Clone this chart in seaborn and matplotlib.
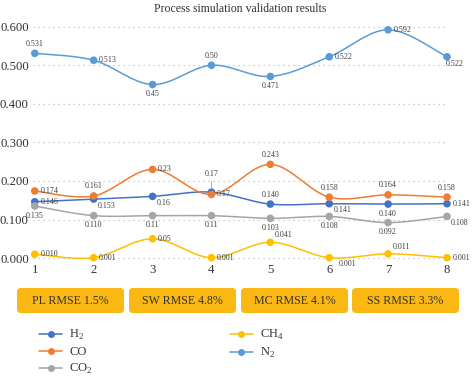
import numpy as np
import pandas as pd
import matplotlib
matplotlib.use('Agg')
import matplotlib.pyplot as plt
import seaborn as sns
from matplotlib.patches import FancyBboxPatch
from matplotlib.lines import Line2D

# Data
runs = [1, 2, 3, 4, 5, 6, 7, 8]
h2 = [0.146, 0.153, 0.160, 0.171, 0.140, 0.141, 0.140, 0.141]
co = [0.174, 0.161, 0.230, 0.165, 0.243, 0.158, 0.164, 0.158]
co2 = [0.135, 0.110, 0.110, 0.110, 0.103, 0.108, 0.092, 0.108]
ch4 = [0.010, 0.001, 0.050, 0.001, 0.041, 0.001, 0.011, 0.001]
n2 = [0.531, 0.513, 0.450, 0.500, 0.471, 0.522, 0.592, 0.522]

h2_lbl = ['0.146', '0.153', '0.16', '0.17', '0.140', '0.141', '0.140', '0.141']
co_lbl = ['0.174', '0.161', '0.23', '0.17', '0.243', '0.158', '0.164', '0.158']
co2_lbl = ['0.135', '0.110', '0.11', '0.11', '0.103', '0.108', '0.092', '0.108']
ch4_lbl = ['0.010', '0.001', '0.05', '0.001', '0.041', '0.001', '0.011', '0.001']
n2_lbl = ['0.531', '0.513', '0.45', '0.50', '0.471', '0.522', '0.592', '0.522']

rmse_labels = ['PL RMSE 1.5%', 'SW RMSE 4.8%', 'MC RMSE 4.1%', 'SS RMSE 3.3%']
yticks = [0.0, 0.1, 0.2, 0.3, 0.4, 0.5, 0.6]

# where each data label sits relative to its point
h2_pos = ['r', 'rb', 'rb', 'up', 'a', 'rb', 'b', 'r']
co_pos = ['r', 'a', 'r', 'r', 'a', 'a', 'a', 'a']
co2_pos = ['b', 'b', 'b', 'b', 'b', 'b', 'b', 'rb']
ch4_pos = ['r', 'r', 'r', 'r', 'ra', 'rb2', 'ra', 'r']
n2_pos = ['a', 'r', 'b', 'a', 'b', 'r', 'r', 'rb0']

series = [
    ('H$_\\mathregular{2}$', h2, h2_lbl, h2_pos, '#4472C4'),
    ('CO', co, co_lbl, co_pos, '#ED7D31'),
    ('CO$_\\mathregular{2}$', co2, co2_lbl, co2_pos, '#A5A5A5'),
    ('CH$_\\mathregular{4}$', ch4, ch4_lbl, ch4_pos, '#FFC000'),
    ('N$_\\mathregular{2}$', n2, n2_lbl, n2_pos, '#5B9BD5'),
]

offsets = {
    'r': (4, 0, 'left', 'center'),
    'a': (0, 4, 'center', 'bottom'),
    'b': (0, -4, 'center', 'top'),
    'rb': (3, -2, 'left', 'top'),
    'rb0': (-1, -2, 'left', 'top'),
    'rb2': (7, -2, 'left', 'top'),
    'ra': (3, 2, 'left', 'bottom'),
    'up': (0, 10, 'center', 'bottom'),
}


def smooth(x, y, n=24):
    # Catmull-Rom curve through the points (Excel style smoothed line)
    x = np.asarray(x, float)
    y = np.asarray(y, float)
    px = np.concatenate([[x[0]], x, [x[-1]]])
    py = np.concatenate([[y[0]], y, [y[-1]]])
    t = np.linspace(0, 1, n)
    xs, ys = [], []
    for i in range(1, len(px) - 2):
        for p, out in ((px, xs), (py, ys)):
            p0, p1, p2, p3 = p[i - 1], p[i], p[i + 1], p[i + 2]
            out.extend(0.5 * (2 * p1 + (-p0 + p2) * t
                              + (2 * p0 - 5 * p1 + 4 * p2 - p3) * t ** 2
                              + (-p0 + 3 * p1 - 3 * p2 + p3) * t ** 3))
    return np.array(xs), np.array(ys)


sns.set_theme(style='white')
plt.rcParams['font.family'] = ['Liberation Serif', 'DejaVu Serif']
plt.rcParams['mathtext.fontset'] = 'custom'
plt.rcParams['mathtext.rm'] = 'Liberation Serif'

fig = plt.figure(figsize=(4.74, 3.76), dpi=100)
ax = fig.add_axes([33 / 474, 1 - 260 / 376, 414 / 474, 241 / 376])

for name, vals, lbls, pos, col in series:
    xs, ys = smooth(runs, vals)
    sns.lineplot(x=xs, y=ys, ax=ax, color=col, lw=1.1, sort=False, estimator=None)
    sns.scatterplot(x=runs, y=vals, ax=ax, color=col, s=30, edgecolor='none',
                    zorder=3, clip_on=False)
    for xv, yv, t, p in zip(runs, vals, lbls, pos):
        dx, dy, ha, va = offsets[p]
        kw = {}
        if p == 'up':
            kw['arrowprops'] = dict(arrowstyle='-', color='#A5A5A5', lw=0.6,
                                    shrinkA=0, shrinkB=3)
        ax.annotate(t, (xv, yv), xytext=(dx, dy), textcoords='offset points',
                    ha=ha, va=va, fontsize=5.8, color='#404040', zorder=4, **kw)

ax.set_xlim(0.97, 8.0)
ax.set_ylim(-0.005, 0.62)
ax.set_yticks(yticks)
ax.set_yticklabels([f'{v:.3f}' for v in yticks])
ax.set_xticks(runs)
ax.tick_params(axis='both', labelsize=9.2, colors='#333333', length=0, pad=3)
for y in yticks:
    ax.axhline(y, color='#BFBFBF', lw=0.9, ls=(0, (1, 3)), zorder=0)
for s in ax.spines.values():
    s.set_visible(False)
ax.set_xlabel('')
ax.set_ylabel('')

fig.text(240 / 474, 1 - 9 / 376, 'Process simulation validation results',
         ha='center', va='center', fontsize=8.5, color='#333333')

# RMSE boxes
box_x = [0.17, 1.29, 2.41, 3.52]
for bx, lab in zip(box_x, rmse_labels):
    patch = FancyBboxPatch((bx, 0.63), 1.07, 0.25, transform=fig.dpi_scale_trans,
                           boxstyle='round,pad=0,rounding_size=0.04',
                           fc='#FBB813', ec='none')
    fig.add_artist(patch)
    fig.text(bx + 0.535, 0.755, lab, transform=fig.dpi_scale_trans,
             ha='center', va='center', fontsize=8.6, color='#333333')

handles = [Line2D([], [], color=c, lw=1.1, marker='o', ms=5, mec='none', label=n)
           for n, _, _, _, c in series]
fig.legend(handles=handles, ncol=2, frameon=False, loc='upper left',
           bbox_to_anchor=(33 / 474, 1 - 322 / 376), fontsize=9,
           handlelength=1.8, handletextpad=0.6, labelspacing=0.32,
           columnspacing=11.0, borderpad=0, labelcolor='#333333')

fig.savefig('out.png', dpi=100)
